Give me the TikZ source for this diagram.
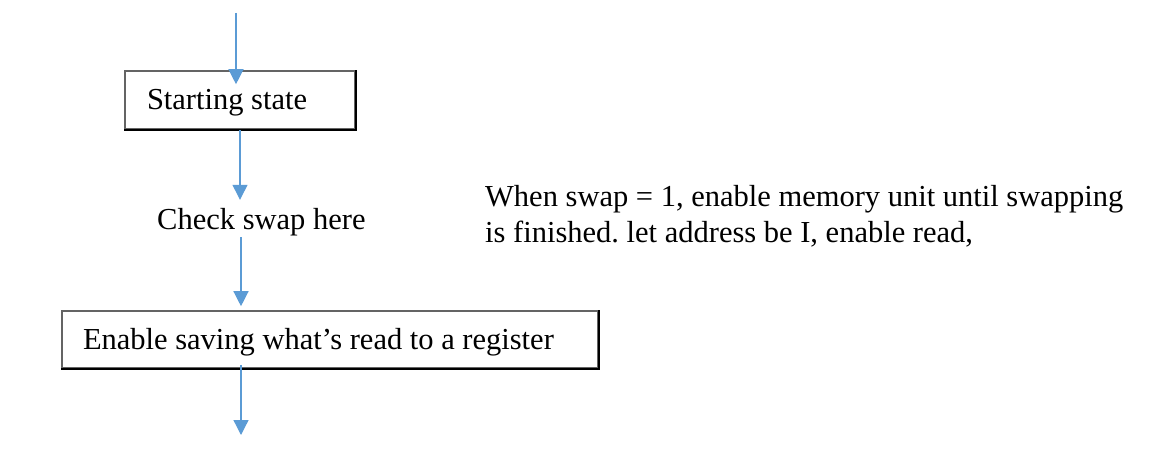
\documentclass[tikz,border=0pt]{standalone}
\usepackage{fontspec}
\setmainfont{Liberation Serif}
\usetikzlibrary{arrows.meta,calc}
\frenchspacing
\definecolor{arrowblue}{RGB}{91,155,213}
\definecolor{boxgray}{RGB}{100,100,100}
\tikzset{
  flowbox/.style={draw=boxgray, line width=1.6pt, fill=white,
    minimum height=57pt, text height=24pt, text depth=4pt, inner ysep=0pt},
  boxshade/.style={draw=black, line width=2pt},
  flowarrow/.style={draw=arrowblue, line width=1.3pt,
    -{Triangle[length=15pt,width=15pt]}},
  bigtext/.style={font=\fontsize{30.5}{36}\selectfont},
}
\begin{document}
\begin{tikzpicture}[x=1pt,y=-1pt,bigtext]
\useasboundingbox (0,0) rectangle (1171,465);
% boxes
\node[flowbox, inner xsep=22pt, minimum height=58pt] (s1) at (240,100) {\makebox[186pt][l]{Starting state}};
\draw[boxshade] (s1.north east) -- (s1.south east) -- (s1.south west);
\node[anchor=base west, inner xsep=0pt, inner ysep=6pt, text height=24pt, text depth=1pt] (check) at (157,230) {Check swap here};
\node[flowbox, inner xsep=21pt] (s2) at (330,339.5) {\makebox[494pt][l]{Enable saving what’s read to a register}};
\draw[boxshade] (s2.north east) -- (s2.south east) -- (s2.south west);
% note
\node[anchor=base west, align=left, inner sep=0pt] (note) at (485,243)
  {When swap = 1, enable memory unit until swapping\\is finished. let address be I, enable read,};
% connectors
\coordinate (top) at (236,13);
\coordinate (bottom) at (241,435);
\draw[flowarrow, shorten >=-14pt] (top) -- (top |- s1.north);
\draw[flowarrow] (s1.south) -- (s1.south |- check.north);
\draw[flowarrow, shorten >=4pt] (bottom |- check.south) -- (bottom |- s2.north);
\draw[flowarrow, shorten <=-4pt] (bottom |- s2.south) -- (bottom);
\end{tikzpicture}
\end{document}
